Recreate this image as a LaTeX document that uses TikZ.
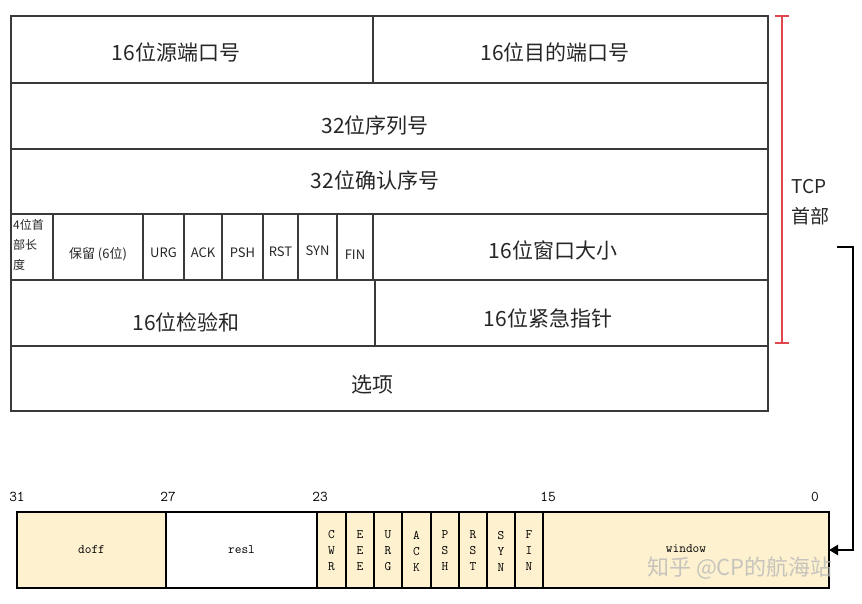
\documentclass[tikz,border=0pt]{standalone}
\usepackage{fontspec}
\newfontfamily\cjk{Noto Sans CJK SC}
\newfontfamily\mono{Latin Modern Mono}
\usetikzlibrary{arrows.meta}
\definecolor{cellyel}{HTML}{FDF1CF}
\definecolor{tcpred}{HTML}{E0474C}
\definecolor{gridline}{HTML}{3A3A3A}
\newcommand{\boxcell}[7]{%
  \pgfmathsetmacro{\bcw}{#5-#3}%
  \pgfmathsetmacro{\bch}{#6-#4}%
  \node[#1, minimum width=\bcw pt, minimum height=\bch pt] (#2) at ({(#3+#5)/2},{(#4+#6)/2}) {#7};}
\begin{document}
\begin{tikzpicture}[x=1pt,y=-1pt,
  cell/.style={draw=gridline, line width=1.4pt, inner sep=0pt, outer sep=0pt},
  bcell/.style={draw=black, line width=1.1pt, inner sep=0pt, outer sep=0pt},
  big/.style={font=\cjk\fontsize{21}{24}\selectfont, text=black!85, inner sep=0pt},
  small/.style={font=\cjk\fontsize{13}{15}\selectfont, text=black!85, inner sep=0pt},
  monolab/.style={font=\mono\fontsize{13}{16}\selectfont, inner sep=0pt, align=center},
  numlab/.style={font=\mono\fontsize{15}{16}\selectfont, inner sep=0pt}]
\useasboundingbox (0,0) rectangle (862,603);
% ---- top table ----
\boxcell{cell}{srcp}{11}{16}{373}{83}{}
\boxcell{cell}{dstp}{373}{16}{768}{83}{}
\boxcell{cell}{seq}{11}{83}{768}{149}{}
\boxcell{cell}{ackn}{11}{149}{768}{214}{}
\boxcell{cell}{hlen}{11}{214}{53}{280}{}
\boxcell{cell}{resv}{53}{214}{143}{280}{}
\boxcell{cell}{furg}{143}{214}{184}{280}{}
\boxcell{cell}{fack}{184}{214}{222}{280}{}
\boxcell{cell}{fpsh}{222}{214}{263}{280}{}
\boxcell{cell}{frst}{263}{214}{298}{280}{}
\boxcell{cell}{fsyn}{298}{214}{337}{280}{}
\boxcell{cell}{ffin}{337}{214}{373}{280}{}
\boxcell{cell}{wins}{373}{214}{768}{280}{}
\boxcell{cell}{csum}{11}{280}{375}{346}{}
\boxcell{cell}{urgp}{375}{280}{768}{346}{}
\boxcell{cell}{opts}{11}{346}{768}{411}{}
% labels
\node[big] (tsrc) at (176,52) {16位源端口号};
\node[big] (tdst) at (555,52) {16位目的端口号};
\node[big] (tseq) at (375,125) {32位序列号};
\node[big] (tack) at (375,180) {32位确认序号};
\node[big] (twin) at (553,250) {16位窗口大小};
\node[big] (tcs) at (186,322) {16位检验和};
\node[big] (turg) at (548,318) {16位紧急指针};
\node[big] (topt) at (372,385) {选项};
\node[font=\cjk\fontsize{12}{20}\selectfont, text=black!85, inner sep=0pt, align=left, anchor=north west] (thl) at (13,219) {4位首\\部长\\度};
\node[small] (trs) at (98,254) {保留 (6位)};
\node[small, yshift=-6pt] (tu) at (furg.center) {URG};
\node[small, yshift=-6pt] (ta) at (fack.center) {ACK};
\node[small, yshift=-6pt] (tp) at (fpsh.center) {PSH};
\node[small, yshift=-5pt] (tr) at (frst.center) {RST};
\node[small, yshift=-4pt] (ts) at (fsyn.center) {SYN};
\node[small, yshift=-8pt] (tf) at (ffin.center) {FIN};
% red bracket
\coordinate (rbt) at (782,16);
\coordinate (rbb) at (782,343);
\draw[tcpred, line width=1.3pt] (rbt) -- (rbb);
\draw[tcpred, line width=1.3pt] ([xshift=-7pt]rbt) -- ([xshift=7pt]rbt);
\draw[tcpred, line width=1.3pt] ([xshift=-7pt]rbb) -- ([xshift=7pt]rbb);
\node[font=\cjk\fontsize{19}{30}\selectfont, text=black!85, align=left, inner sep=0pt, anchor=west] (tcpl) at (791,202) {TCP\\首部};
% ---- bottom table ----
\boxcell{bcell, fill=cellyel}{bdoff}{17}{512}{166}{588}{}
\boxcell{bcell, fill=white}{bresl}{166}{512}{317}{588}{}
\boxcell{bcell, fill=cellyel}{bcwr}{317}{512}{346}{588}{}
\boxcell{bcell, fill=cellyel}{bece}{346}{512}{374}{588}{}
\boxcell{bcell, fill=cellyel}{burg}{374}{512}{402}{588}{}
\boxcell{bcell, fill=cellyel}{back}{402}{512}{431}{588}{}
\boxcell{bcell, fill=cellyel}{bpsh}{431}{512}{459}{588}{}
\boxcell{bcell, fill=cellyel}{brst}{459}{512}{487}{588}{}
\boxcell{bcell, fill=cellyel}{bsyn}{487}{512}{515}{588}{}
\boxcell{bcell, fill=cellyel}{bfin}{515}{512}{543}{588}{}
\boxcell{bcell, fill=cellyel}{bwin}{543}{512}{829}{588}{}
\node[monolab] (ldoff) at (bdoff.center) {doff};
\node[monolab] (lresl) at (bresl.center) {resl};
\node[monolab] (lwin) at (686,549) {window};
\node[monolab] (lcwr) at ([yshift=-1pt]bcwr.center) {C\\W\\R};
\node[monolab] (lece) at ([yshift=-1pt]bece.center) {E\\E\\E};
\node[monolab] (lurg) at ([yshift=-1pt]burg.center) {U\\R\\G};
\node[monolab] (lack) at ([yshift=-1pt]back.center) {A\\C\\K};
\node[monolab] (lpsh) at ([yshift=-1pt]bpsh.center) {P\\S\\H};
\node[monolab] (lrst) at ([yshift=-1pt]brst.center) {R\\S\\T};
\node[monolab] (lsyn) at ([yshift=-1pt]bsyn.center) {S\\Y\\N};
\node[monolab] (lfin) at ([yshift=-1pt]bfin.center) {F\\I\\N};
\node[numlab] (n31) at (17,497) {31};
\node[numlab] (n27) at (168,497) {27};
\node[numlab] (n23) at (320,497) {23};
\node[numlab] (n15) at (548,497) {15};
\node[numlab] (n0) at (815,497) {0};
% watermark
\node[font=\cjk\fontsize{22}{24}\selectfont, text=gray!55, opacity=0.8, inner sep=0pt] (wm) at (740,568) {知乎 @CP的航海站};
% connector
\coordinate (cs) at (837,247);
\coordinate (cb) at (853,247);
\draw[black, line width=2.4pt, -{Triangle[length=9pt,width=10pt]}] (cs) -- (cb) |- (bwin.east);
\end{tikzpicture}
\end{document}
